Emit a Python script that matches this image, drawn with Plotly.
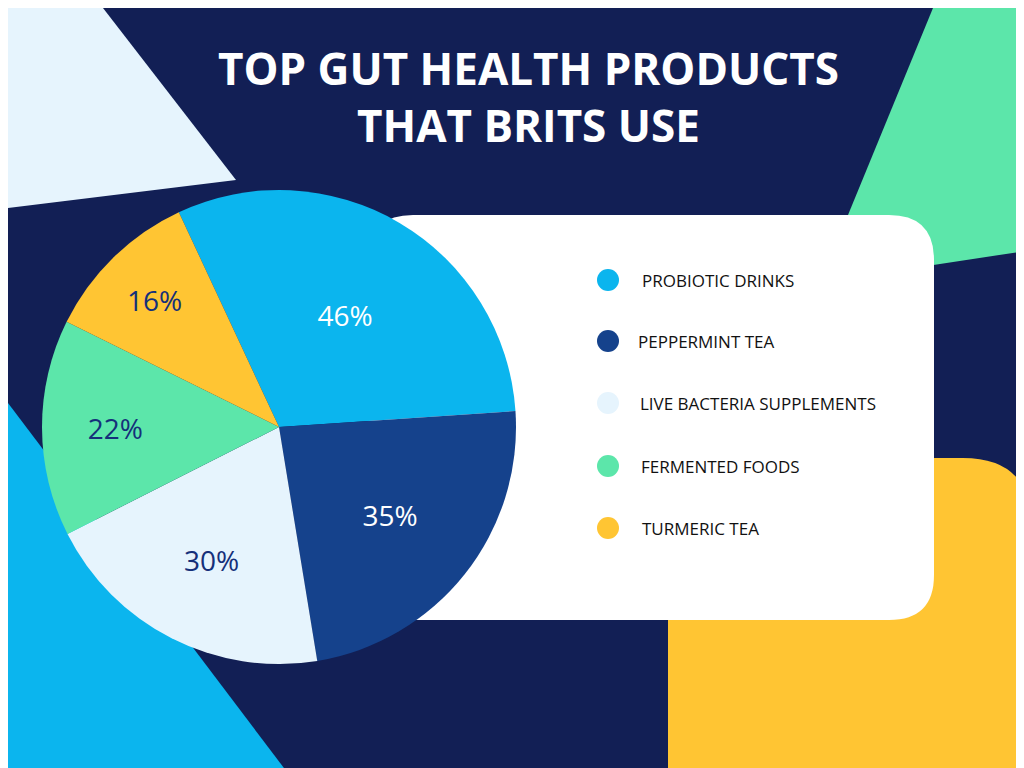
import plotly.graph_objects as go

categories = ["PROBIOTIC DRINKS", "PEPPERMINT TEA", "LIVE BACTERIA SUPPLEMENTS", "FERMENTED FOODS", "TURMERIC TEA"]
values = [46, 35, 30, 22, 16]
colors = ["#0BB5EE", "#15428C", "#E6F4FD", "#5CE6AA", "#FFC533"]
text_colors = ["white", "white", "#15307A", "#15307A", "#15307A"]

W, H = 1024, 768
fig = go.Figure()

def rrect(x0, y0, x1, y1, r):
    return (f"M{x0+r},{y0} L{x1-r},{y0} Q{x1},{y0} {x1},{y0+r} L{x1},{y1-r} Q{x1},{y1} {x1-r},{y1} "
            f"L{x0+r},{y1} Q{x0},{y1} {x0},{y1-r} L{x0},{y0+r} Q{x0},{y0} {x0+r},{y0} Z")

shapes = [
    dict(type="path", path="M0,0 L95,0 L228,172 L0,200 Z", fillcolor="#E6F4FD", line_width=0, layer="below"),
    dict(type="path", path="M925,0 L1024,0 L1024,242 L840,270 L840,207 Z", fillcolor="#5CE6AA", line_width=0, layer="below"),
    dict(type="path", path="M0,395 L282,768 L0,768 Z", fillcolor="#0BB5EE", line_width=0, layer="below"),
    dict(type="path", path="M660,450 L955,450 Q1024,450 1024,520 L1024,768 L660,768 Z", fillcolor="#FFC533", line_width=0, layer="below"),
    dict(type="path", path=rrect(360, 207, 926, 612, 45), fillcolor="white", line_width=0, layer="below"),
]
fig.update_layout(shapes=shapes)

fig.add_trace(go.Pie(
    labels=categories, values=values, sort=False, direction="clockwise", rotation=-25,
    marker=dict(colors=colors, line=dict(width=0)),
    text=[f"{v}%" for v in values], textinfo="text", textposition="inside",
    insidetextorientation="horizontal",
    textfont=dict(family="Open Sans", size=28, color=text_colors),
    domain=dict(x=[34/W, 508/W], y=[(H-656)/H, (H-182)/H]),
    showlegend=False, hoverinfo="label+value",
))

ly = [272, 333, 395, 458, 520]
lx = [632, 628, 630, 631, 632]
fig.add_trace(go.Scatter(x=[600]*5, y=ly, mode="markers",
                         marker=dict(size=22, color=colors, line=dict(width=0)),
                         showlegend=False, hoverinfo="skip"))
for c, x, y in zip(categories, lx, ly):
    fig.add_annotation(x=x, y=y, text=c, showarrow=False, xanchor="left", yanchor="middle",
                       font=dict(family="Open Sans", size=17, color="#111"))

fig.add_annotation(x=520, y=88, text="<b>TOP GUT HEALTH PRODUCTS<br>THAT BRITS USE</b>", showarrow=False,
                   xanchor="center", yanchor="middle", align="center",
                   font=dict(family="Open Sans", size=44, color="white"))

fig.update_layout(
    width=W, height=H, margin=dict(l=0, r=0, t=0, b=0),
    paper_bgcolor="#121F55", plot_bgcolor="#121F55",
    xaxis=dict(range=[0, W], visible=False, fixedrange=True),
    yaxis=dict(range=[H, 0], visible=False, fixedrange=True),
)
fig.write_html("out.html")
